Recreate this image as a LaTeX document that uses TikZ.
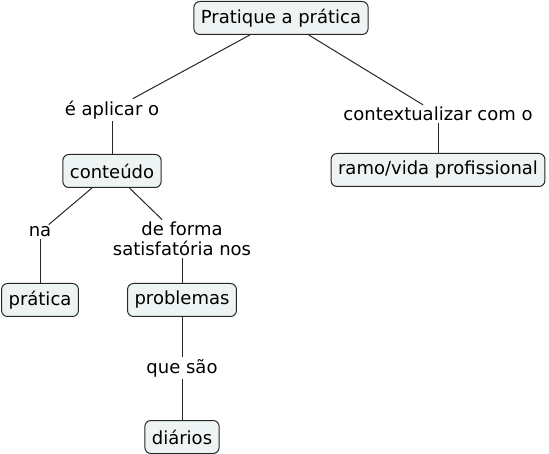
\documentclass[tikz,border=0pt]{standalone}
\usepackage{fontspec}
\setmainfont{DejaVu Sans}
\definecolor{boxfill}{RGB}{238,244,244}
\begin{document}
\begin{tikzpicture}[x=1pt,y=-1pt,
  concept/.style={draw=black!85, line width=1pt, rounded corners=6pt, fill=boxfill,
    inner xsep=7pt, inner ysep=0pt, minimum height=33pt, font=\fontsize{18}{21.5}\selectfont},
  link/.style={inner sep=2pt, font=\fontsize{18}{21.5}\selectfont, align=center},
  conn/.style={line width=1pt, draw=black!85}]
\useasboundingbox (0,0) rectangle (549,454);
\node[concept] (root) at (281,18) {Pratique a prática};
\node[link] (l1) at (112,110) {é aplicar o};
\node[link] (l2) at (438,114) {contextualizar com o};
\node[concept] (cont) at (112,171) {conteúdo};
\node[concept] (ramo) at (438,170) {ramo/vida profissional};
\node[link] (l3) at (40,232) {na};
\node[link] (l4) at (182,239) {de forma\\[-1pt]satisfatória nos};
\node[concept] (prat) at (40,300) {prática};
\node[concept] (prob) at (182,300) {problemas};
\node[link] (l5) at (182,368) {que são};
\node[concept] (diar) at (182,437) {diários};
\draw[conn] (root) -- (l1);
\draw[conn] (root) -- (l2);
\draw[conn] (l1) -- (cont);
\draw[conn] (l2) -- (ramo);
\draw[conn] (cont) -- (l3);
\draw[conn] (cont) -- (l4);
\draw[conn] (l3) -- (prat);
\draw[conn] (l4) -- (prob);
\draw[conn] (prob) -- (l5);
\draw[conn] (l5) -- (diar);
\end{tikzpicture}
\end{document}
